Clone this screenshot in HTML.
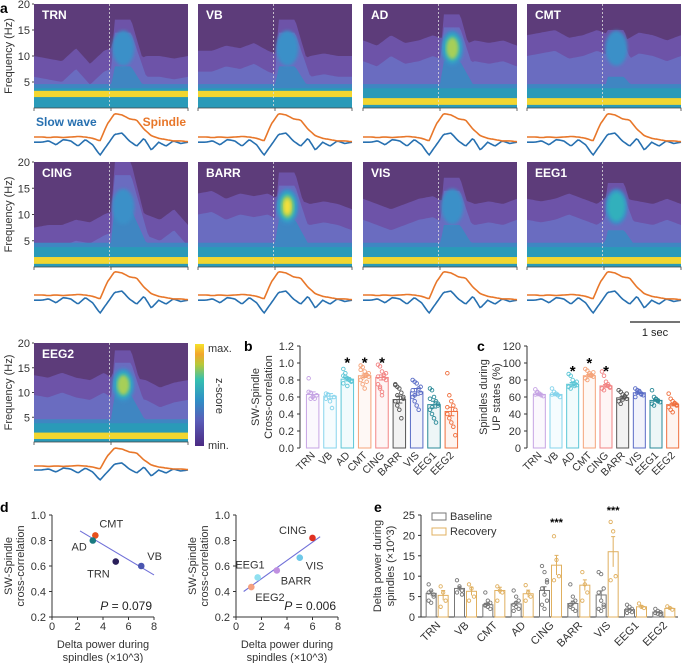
<!DOCTYPE html>
<html><head><meta charset="utf-8"><style>
html,body{margin:0;padding:0;background:#fff;}
svg{display:block;font-family:"Liberation Sans",Arial,sans-serif;}
</style></head><body>
<svg id="fig" width="685" height="663" viewBox="0 0 685 663" xmlns="http://www.w3.org/2000/svg">
<defs>
<linearGradient id="cbar" x1="0" y1="1" x2="0" y2="0">
<stop offset="0" stop-color="#4b2a82"/><stop offset="0.25" stop-color="#5a5db8"/><stop offset="0.45" stop-color="#2f8fc6"/><stop offset="0.65" stop-color="#35c0b0"/><stop offset="0.8" stop-color="#b8c838"/><stop offset="0.9" stop-color="#f2a62c"/><stop offset="1" stop-color="#f6e22a"/>
</linearGradient>
<filter id="soft"><feGaussianBlur stdDeviation="1.5"/></filter>
</defs>
<text x="0" y="13" font-size="14" font-weight="bold">a</text>
<text x="244" y="351" font-size="14" font-weight="bold">b</text>
<text x="477" y="351" font-size="14" font-weight="bold">c</text>
<text x="0" y="512" font-size="14" font-weight="bold">d</text>
<text x="374" y="512" font-size="14" font-weight="bold">e</text>
<rect x="195" y="344" width="9" height="102" fill="url(#cbar)"/>
<text x="208" y="352" font-size="11" fill="#333">max.</text>
<text x="208" y="449" font-size="11" fill="#333">min.</text>
<text transform="translate(216,396) rotate(90)" font-size="11" fill="#333" text-anchor="middle">z-score</text>
<line x1="630" y1="322" x2="680" y2="322" stroke="#222" stroke-width="1.2"/>
<text x="655" y="336" font-size="11" text-anchor="middle" fill="#222">1 sec</text>
</svg>
<script>
const svg=document.getElementById('fig');
const NS='http://www.w3.org/2000/svg';
function mk(tag,attrs){const e=document.createElementNS(NS,tag);for(const k in attrs)e.setAttribute(k,attrs[k]);svg.appendChild(e);return e;}
function txt(x,y,s,attrs){const e=mk('text',Object.assign({x:x,y:y},attrs));e.textContent=s;return e;}

// ---------- Panel a data ----------
const specNames=['TRN','VB','AD','CMT','CING','BARR','VIS','EEG1','EEG2'];
const specLevel=[
 [10,9.5,9,11.5,8.5,11,12,8.5,10,10,9.5,10],
 [11,11,12,11.5,12.5,11,10,8.5,10,10.5,10,10],
 [13,12,14,12.5,13,14,13,12,13,12.5,13,12],
 [14,14.5,15,13.5,14,15,14,13,14.5,14,13,14],
 [7.5,8,8,9,8.5,10,11,12,10,9,11,8],
 [14,14.5,13,14,13.5,14,12.5,13,12,12.5,12,11],
 [13,12,11,12,13,13.5,12,13,12,12.5,12,13],
 [13,12.5,13,14,13,12,14,13,12.5,12,13,12],
 [13.5,13,14,13,12.5,14,12,13,12.5,11,12,12.5]];
const specPeak=[17,17,18,15,20,18,17,16,18.5];
const specBlob=[0.4,0.4,0.75,0.35,0.45,0.9,0.45,0.6,0.75];
const specBandHigh=[1,1,0,0,0,0,0,0,0];
const traceOrange=[0.1,0.1,0.08,0.1,0.08,0.1,0.12,0.1,0.05,-0.05,0.6,1.0,0.95,0.8,0.75,0.4,0.15,0.05,0.0,-0.05,-0.05,-0.08];
const traceBlue=[0.2,0.2,0.25,0.1,0.3,0.25,0.05,0.3,0.1,-0.3,0.1,0.5,0.55,0.25,0.05,0.35,-0.1,0.2,0.05,0.25,0.15,0.2];
const panelX=[34,198,363,527,34,198,363,527,34];
const panelY=[4,4,4,4,162,162,162,162,343];
const panelH=[104,104,104,104,105,105,105,105,99];
const traceMid=[137,137,137,137,295,295,295,295,466];

function interp(arr,t){const p=t*(arr.length-1);const i=Math.min(arr.length-2,Math.floor(p));const f=p-i;return arr[i]*(1-f)+arr[i+1]*f;}
function bump(t){if(t<0.49||t>0.8)return 0;if(t<0.52)return (t-0.49)/0.03;if(t<0.63)return 1;return 1-(t-0.63)/0.17;}

specNames.forEach((nm,k)=>{
 const x0=panelX[k],y0=panelY[k],W=154,H=panelH[k];
 const fy=f=>y0+H-f/20*H;
 const bg=mk('rect',{x:x0,y:y0,width:W,height:H,fill:'#5d3c7a'});
 
 
 const layers=[
  {c:'#6d53a8',fn:t=>Math.max(interp(specLevel[k],t),specPeak[k]*bump(t))},
  {c:'#6a6cc0',fn:t=>Math.max(interp(specLevel[k],t)-4,(specPeak[k]-2.5)*bump(t))},
  {c:'#3f86c2',fn:t=>Math.max(4.6,(specPeak[k]-9)*bump(t))},
  {c:'#2a9ab8',fn:t=>3.8}];
 layers.forEach((L,li)=>{
  let d='M'+x0+','+(y0+H);
  for(let i=0;i<=80;i++){const t=i/80;d+=' L'+(x0+t*W).toFixed(1)+','+Math.max(y0,fy(Math.min(20,L.fn(t)))).toFixed(1);}
  d+=' L'+(x0+W)+','+(y0+H)+' Z';
  const p=mk('path',{d:d,fill:L.c});
  
  
 });
 const bandLo=specBandHigh[k]?2.1:0.6, bandHi=specBandHigh[k]?3.3:1.9;
 const band=mk('rect',{x:x0,y:fy(bandHi),width:W,height:fy(bandLo)-fy(bandHi),fill:'#f2d630'});
 
 
 const b=specBlob[k];
 const blobCols=['#3a90c8','#33b0bc','#a6cf58','#f5e03a'];
 const levels=b>0.85?4:b>0.7?3:b>0.5?2:1;
 for(let j=0;j<levels;j++){
  const e=mk('ellipse',{cx:x0+0.58*W,cy:fy(11.5),rx:(11-j*2.5),ry:(H*0.17-j*3.5),fill:blobCols[j],filter:'url(#soft)'});
  
  
 }
 const lbl=txt(x0+8,y0+15,nm,{'font-size':12,'font-weight':'bold',fill:'#fff'});
 
 
 const dash=mk('line',{x1:x0+0.49*W,y1:y0,x2:x0+0.49*W,y2:y0+H,stroke:'#ddd','stroke-width':0.8,'stroke-dasharray':'2,2'});
 
 
 const ax=mk('path',{d:`M${x0},${y0+H+3}V${y0+H}H${x0+W}V${y0+H+3}M${x0+W/2},${y0+H}v3`,stroke:'#444',fill:'none','stroke-width':0.8});
 
 
 if(k%4===0){
  [20,15,10,5].forEach(v=>{
   const t=txt(x0-4,fy(v)+4,String(v),{'font-size':11,'text-anchor':'end',fill:'#333'});
   
   
   const tk=mk('line',{x1:x0-2,x2:x0,y1:fy(v),y2:fy(v),stroke:'#444'});
   
   
  });
  const yl=txt(0,0,'Frequency (Hz)',{'font-size':11,'text-anchor':'middle',fill:'#333',transform:`translate(12,${y0+H/2}) rotate(-90)`});
  
  
 }
 const mid=traceMid[k], amp=k===8?20:26;
 [[traceBlue,'#2770b0','slow-wave-trace',0.4],[traceOrange,'#e8772a','spindle-trace',0.1]].forEach(([arr,col,name,base])=>{
  let d='';
  for(let i=0;i<=100;i++){const t=i/100;const v=interp(arr,t);d+=(i?' L':'M')+(x0+t*W).toFixed(1)+','+(mid-(v-base)*amp).toFixed(1);}
  const p=mk('path',{d:d,fill:'none',stroke:col,'stroke-width':1.6});
  
  
 });
});
const sw=txt(36,126,'Slow wave',{'font-size':12,'font-weight':'bold',fill:'#2770b0'});


const sp=txt(186,126,'Spindle',{'font-size':12,'font-weight':'bold',fill:'#e8772a','text-anchor':'end'});



// ---------- Panels b & c ----------
const regions=['TRN','VB','AD','CMT','CING','BARR','VIS','EEG1','EEG2'];
const regionColors=['#c6a4e4','#86d4ec','#5cc6d6','#f5a47a','#f28484','#555555','#5a6cc6','#2a8a98','#ef6f3e'];
const corrMeans=[0.63,0.61,0.81,0.85,0.83,0.57,0.66,0.51,0.43];
const corrSem=[0.03,0.03,0.02,0.02,0.03,0.04,0.04,0.04,0.05];
const corrPts=[[0.82,0.65,0.6,0.58,0.62,0.66,0.58],[0.64,0.63,0.55,0.47,0.6,0.58],[0.93,0.88,0.82,0.8,0.78,0.76,0.84,0.73,0.81,0.79,0.85],[0.97,0.95,0.9,0.86,0.84,0.8,0.75,0.7,0.78,0.88,0.92,0.83,0.85],[0.98,0.96,0.9,0.86,0.8,0.75,0.7,0.62,0.82,0.88,0.84,0.72,0.66],[0.74,0.72,0.7,0.65,0.6,0.55,0.5,0.45,0.35,0.58,0.75,0.62],[0.8,0.78,0.76,0.7,0.65,0.6,0.55,0.5,0.45,0.72,0.68,0.62],[0.7,0.68,0.6,0.55,0.5,0.45,0.4,0.35,0.3,0.52,0.58,0.48],[0.88,0.62,0.55,0.5,0.45,0.4,0.35,0.3,0.25,0.15,0.48]];
const corrTicks=['0.0','0.2','0.4','0.6','0.8','1.0','1.2'];
const upMeans=[63,63,75,85,73,59,65,56,51];
const upSem=[1.5,1.5,2,1.5,1.5,1.5,1,1,1.5];
const upPts=[[69,66,64,62,61,63,65],[70,66,64,62,60,63],[87,85,80,76,74,72,70,75,73,78],[93,91,88,86,84,82,80,86,85,89],[90,85,78,75,72,70,68,74,73,71],[68,66,63,60,58,55,52,57,61,64],[70,68,66,64,62,60,65,67,63],[68,60,58,56,54,52,50,57,55],[64,58,55,52,50,48,45,42,53,51]];
const upTicks=['0','20','40','60','80','100','120'];
const starsB=[2,3,4];

function barPanel(opt){
 const {x0,x1,yTop,yBot,max,means,sem,pts,ticks,name}=opt;
 const yS=v=>yBot-v/max*(yBot-yTop);
 const step=(x1-x0-4)/regions.length;
 const xS=i=>x0+4+step*(i+0.5);
 const axis=mk('path',{d:`M${x0},${yTop}V${yBot}`,stroke:'#333','stroke-width':1,fill:'none'});
 
 
 ticks.forEach((t,i)=>{
  const v=parseFloat(t);
  const tk=mk('line',{x1:x0-3,x2:x0,y1:yS(v),y2:yS(v),stroke:'#333'});
  
  
  const tl=txt(x0-6,yS(v)+4,t,{'font-size':11,'text-anchor':'end',fill:'#333'});
  
  
 });
 regions.forEach((r,i)=>{
  const c=regionColors[i], cx=xS(i), bw=step*0.72;
  const bar=mk('rect',{x:cx-bw/2,y:yS(means[i]),width:bw,height:yBot-yS(means[i]),fill:c,'fill-opacity':0.08,stroke:c,'stroke-width':1});
  
  
  pts[i].forEach((v,j)=>{
   const pt=mk('circle',{cx:cx+((j%5)-2)*2,cy:yS(v),r:1.8,fill:'none',stroke:c,'stroke-width':0.9});
   
   
  });
  const eb=mk('path',{d:`M${cx},${yS(means[i]-sem[i])}V${yS(means[i]+sem[i])}M${cx-3},${yS(means[i]+sem[i])}h6M${cx-3},${yS(means[i]-sem[i])}h6`,stroke:c,'stroke-width':1,fill:'none'});
  
  
  const xl=txt(0,0,r,{'font-size':10.5,'text-anchor':'end',fill:'#333',transform:`translate(${cx+3},${yBot+8}) rotate(-45)`});
  
  
 });
 return {xS,yS};
}
const B=barPanel({x0:300,x1:460,yTop:346,yBot:448,max:1.2,means:corrMeans,sem:corrSem,pts:corrPts,ticks:corrTicks,name:'corr'});
starsB.forEach(i=>{const s=txt(B.xS(i),B.yS(1.02)+6,'*',{'font-size':15,'text-anchor':'middle','font-weight':'bold'});
 
 });
const C=barPanel({x0:527,x1:681,yTop:346,yBot:448,max:120,means:upMeans,sem:upSem,pts:upPts,ticks:upTicks,name:'upstate'});
[[2,92],[3,101],[4,92]].forEach(([i,v])=>{const s=txt(C.xS(i),C.yS(v)+6,'*',{'font-size':15,'text-anchor':'middle','font-weight':'bold'});
 
 });
[['SW-Spindle',259],['Cross-correlation',272]].forEach(([s,x])=>{const t=txt(0,0,s,{'font-size':11,'text-anchor':'middle',fill:'#333',transform:`translate(${x},397) rotate(-90)`});
 
 });
[['Spindles during',487],['UP states (%)',500]].forEach(([s,x])=>{const t=txt(0,0,s,{'font-size':11,'text-anchor':'middle',fill:'#333',transform:`translate(${x},397) rotate(-90)`});
 
 });

// ---------- Panel d ----------
const dLeftNames=['CMT','AD','TRN','VB'];
const dLeftX=[3.4,3.2,5,7];
const dLeftY=[0.84,0.8,0.635,0.6];
const dLeftCol=['#e8501a','#1a7a80','#2a1f5a','#4a55b0'];
const dLeftFit=[[2.2,0.875],[8,0.53]];
const dRightNames=['CING','VIS','BARR','EEG1','EEG2'];
const dRightX=[6,5,3.2,1.7,1.2];
const dRightY=[0.82,0.665,0.565,0.51,0.435];
const dRightCol=['#e03020','#6ec8e8','#c090e0','#90e0f0','#f5a080'];
const dRightFit=[[0.6,0.4],[6.6,0.83]];
const dTicksX=[0,2,4,6,8];
const dTicksY=[0.2,0.4,0.6,0.8,1.0];
const dLabelOff={CMT:[4,-8,'start'],AD:[-6,10,'end'],TRN:[-6,16,'end'],VB:[6,-6,'start'],CING:[-6,-4,'end'],VIS:[6,12,'start'],BARR:[4,14,'start'],EEG1:[7,-9,'end'],EEG2:[4,14,'start']};
function scatter(x0,names,xs,ys,cols,fit,pLabel,nm){
 const xS=v=>x0+v/8*102, yS=v=>617-(v-0.2)/0.8*102;
 const ax=mk('path',{d:`M${x0},515V617H${x0+102}`,stroke:'#333',fill:'none'});
 
 
 dTicksX.forEach(v=>{const t=txt(xS(v),630,String(v),{'font-size':11,'text-anchor':'middle',fill:'#333'});
  
  
  const m=mk('line',{x1:xS(v),x2:xS(v),y1:617,y2:620,stroke:'#333'});
  
  });
 dTicksY.forEach(v=>{const t=txt(x0-6,yS(v)+4,v.toFixed(1),{'font-size':11,'text-anchor':'end',fill:'#333'});
  
  
  const m=mk('line',{x1:x0-3,x2:x0,y1:yS(v),y2:yS(v),stroke:'#333'});
  
  });
 const ln=mk('line',{x1:xS(fit[0][0]),y1:yS(fit[0][1]),x2:xS(fit[1][0]),y2:yS(fit[1][1]),stroke:'#7070d8','stroke-width':1.1});
 
 
 names.forEach((n,i)=>{
  const c=mk('circle',{cx:xS(xs[i]),cy:yS(ys[i]),r:3.3,fill:cols[i]});
  
  
  const o=dLabelOff[n];
  const t=txt(xS(xs[i])+o[0],yS(ys[i])+o[1],n,{'font-size':11,'text-anchor':o[2],fill:'#333'});
  
  
 });
 const p=txt(x0+100,610,'',{'font-size':12,'text-anchor':'end',fill:'#222'});
 p.innerHTML='<tspan font-style="italic">P</tspan> = '+pLabel;
 
 
 const yt1=txt(0,0,'SW-Spindle',{'font-size':11,'text-anchor':'middle',fill:'#333',transform:`translate(${x0-40},566) rotate(-90)`});
 
 
 const yt2=txt(0,0,'cross-correlation',{'font-size':11,'text-anchor':'middle',fill:'#333',transform:`translate(${x0-28},566) rotate(-90)`});
 
 
 const xt1=txt(x0+51,648,'Delta power during',{'font-size':11,'text-anchor':'middle',fill:'#333'});
 
 
 const xt2=txt(x0+51,661,'spindles (×10^3)',{'font-size':11,'text-anchor':'middle',fill:'#333'});
 
 
}
scatter(52,dLeftNames,dLeftX,dLeftY,dLeftCol,dLeftFit,'0.079','d-thalamic');
scatter(236,dRightNames,dRightX,dRightY,dRightCol,dRightFit,'0.006','d-cortical');

// ---------- Panel e ----------
const eRegions=['TRN','VB','CMT','AD','CING','BARR','VIS','EEG1','EEG2'];
const eBase=[5.8,7,3,3.2,6.5,3.3,5.4,1.8,1.2];
const eBaseSem=[0.6,0.4,0.3,0.5,0.9,0.6,1.0,0.2,0.1];
const eRec=[5.3,6.3,6.5,5.7,12.7,7.8,16,2.5,2.1];
const eRecSem=[1.2,1,0.8,0.9,2.4,1.3,3.7,0.3,0.3];
const eBasePts=[[8,6.5,5,4,3.5,5.5,6],[9,7.5,6.5,6,7,5.5],[6,4,3.5,3,2.5,2,2.8,3.2],[6.5,5,4,3,2.5,2,1.5,3.5],[12.5,11,9,7,5.5,4,3,2,8.5],[8,5,4,3,2,1.5,2.5,3.5],[11,10.5,7,6,4,3,2,1.5,2.5],[3,2.5,2,1.8,1.5,1.2,1],[2,1.5,1.2,1,0.8,0.6]];
const eRecPts=[[7.5,6,4,2.5],[8,7,5,4],[7.5,6.5,6,4],[7.8,6,5,4],[19.8,14,10,9],[11,8,6,4],[23.3,21,10,9],[3.3,2.5,2.2],[2.6,2.2,1.8]];
const eTicks=[0,5,10,15,20,25];
const eX0=421,eX1=678,eYTop=515,eYBot=617;
const eY=v=>eYBot-v/25*(eYBot-eYTop);
const eStep=(eX1-eX0-2)/eRegions.length;
const eXc=i=>eX0+2+eStep*(i+0.5);
const eAx=mk('path',{d:`M${eX0},${eYTop}V${eYBot}H${eX1}`,stroke:'#333',fill:'none'});


eTicks.forEach(v=>{const t=txt(eX0-6,eY(v)+4,String(v),{'font-size':11,'text-anchor':'end',fill:'#333'});
 
 
 const m=mk('line',{x1:eX0-3,x2:eX0,y1:eY(v),y2:eY(v),stroke:'#333'});
 
 });
eRegions.forEach((r,i)=>{
 const cx=eXc(i);
 [[eBase,eBaseSem,eBasePts,'#777777',-1,'baseline'],[eRec,eRecSem,eRecPts,'#e0b060',1,'recovery']].forEach(([m,s,pts,c,side,nm])=>{
  const bx=side<0?cx-11:cx+1;
  const bar=mk('rect',{x:bx,y:eY(m[i]),width:10,height:eYBot-eY(m[i]),fill:'#fff',stroke:c,'stroke-width':1});
  
  
  pts[i].forEach((v,j)=>{const pt=mk('circle',{cx:bx+5+((j%3)-1)*2.5,cy:eY(v),r:1.7,fill:'none',stroke:c,'stroke-width':0.9});
   
   });
  const eb=mk('path',{d:`M${bx+5},${eY(m[i]-s[i])}V${eY(m[i]+s[i])}M${bx+3},${eY(m[i]+s[i])}h4`,stroke:c,fill:'none'});
  
  
 });
 const xl=txt(0,0,r,{'font-size':11,'text-anchor':'end',fill:'#333',transform:`translate(${cx+4},${eYBot+9}) rotate(-45)`});
 
 
});
[[4,526],[6,514]].forEach(([i,y])=>{const s=txt(eXc(i)+6,y,'***',{'font-size':11,'text-anchor':'middle','font-weight':'bold'});
 
 });
[['Baseline','#777777',513],['Recovery','#e0b060',528]].forEach(([s,c,y])=>{
 const r=mk('rect',{x:432,y:y,width:14,height:7,fill:'#fff',stroke:c});
 
 
 const t=txt(450,y+7,s,{'font-size':11,fill:'#333'});
 
 
});
[['Delta power during',381],['spindles (×10^3)',394]].forEach(([s,x])=>{const t=txt(0,0,s,{'font-size':11,'text-anchor':'middle',fill:'#333',transform:`translate(${x},566) rotate(-90)`});
 
 });
</script>
</body></html>
